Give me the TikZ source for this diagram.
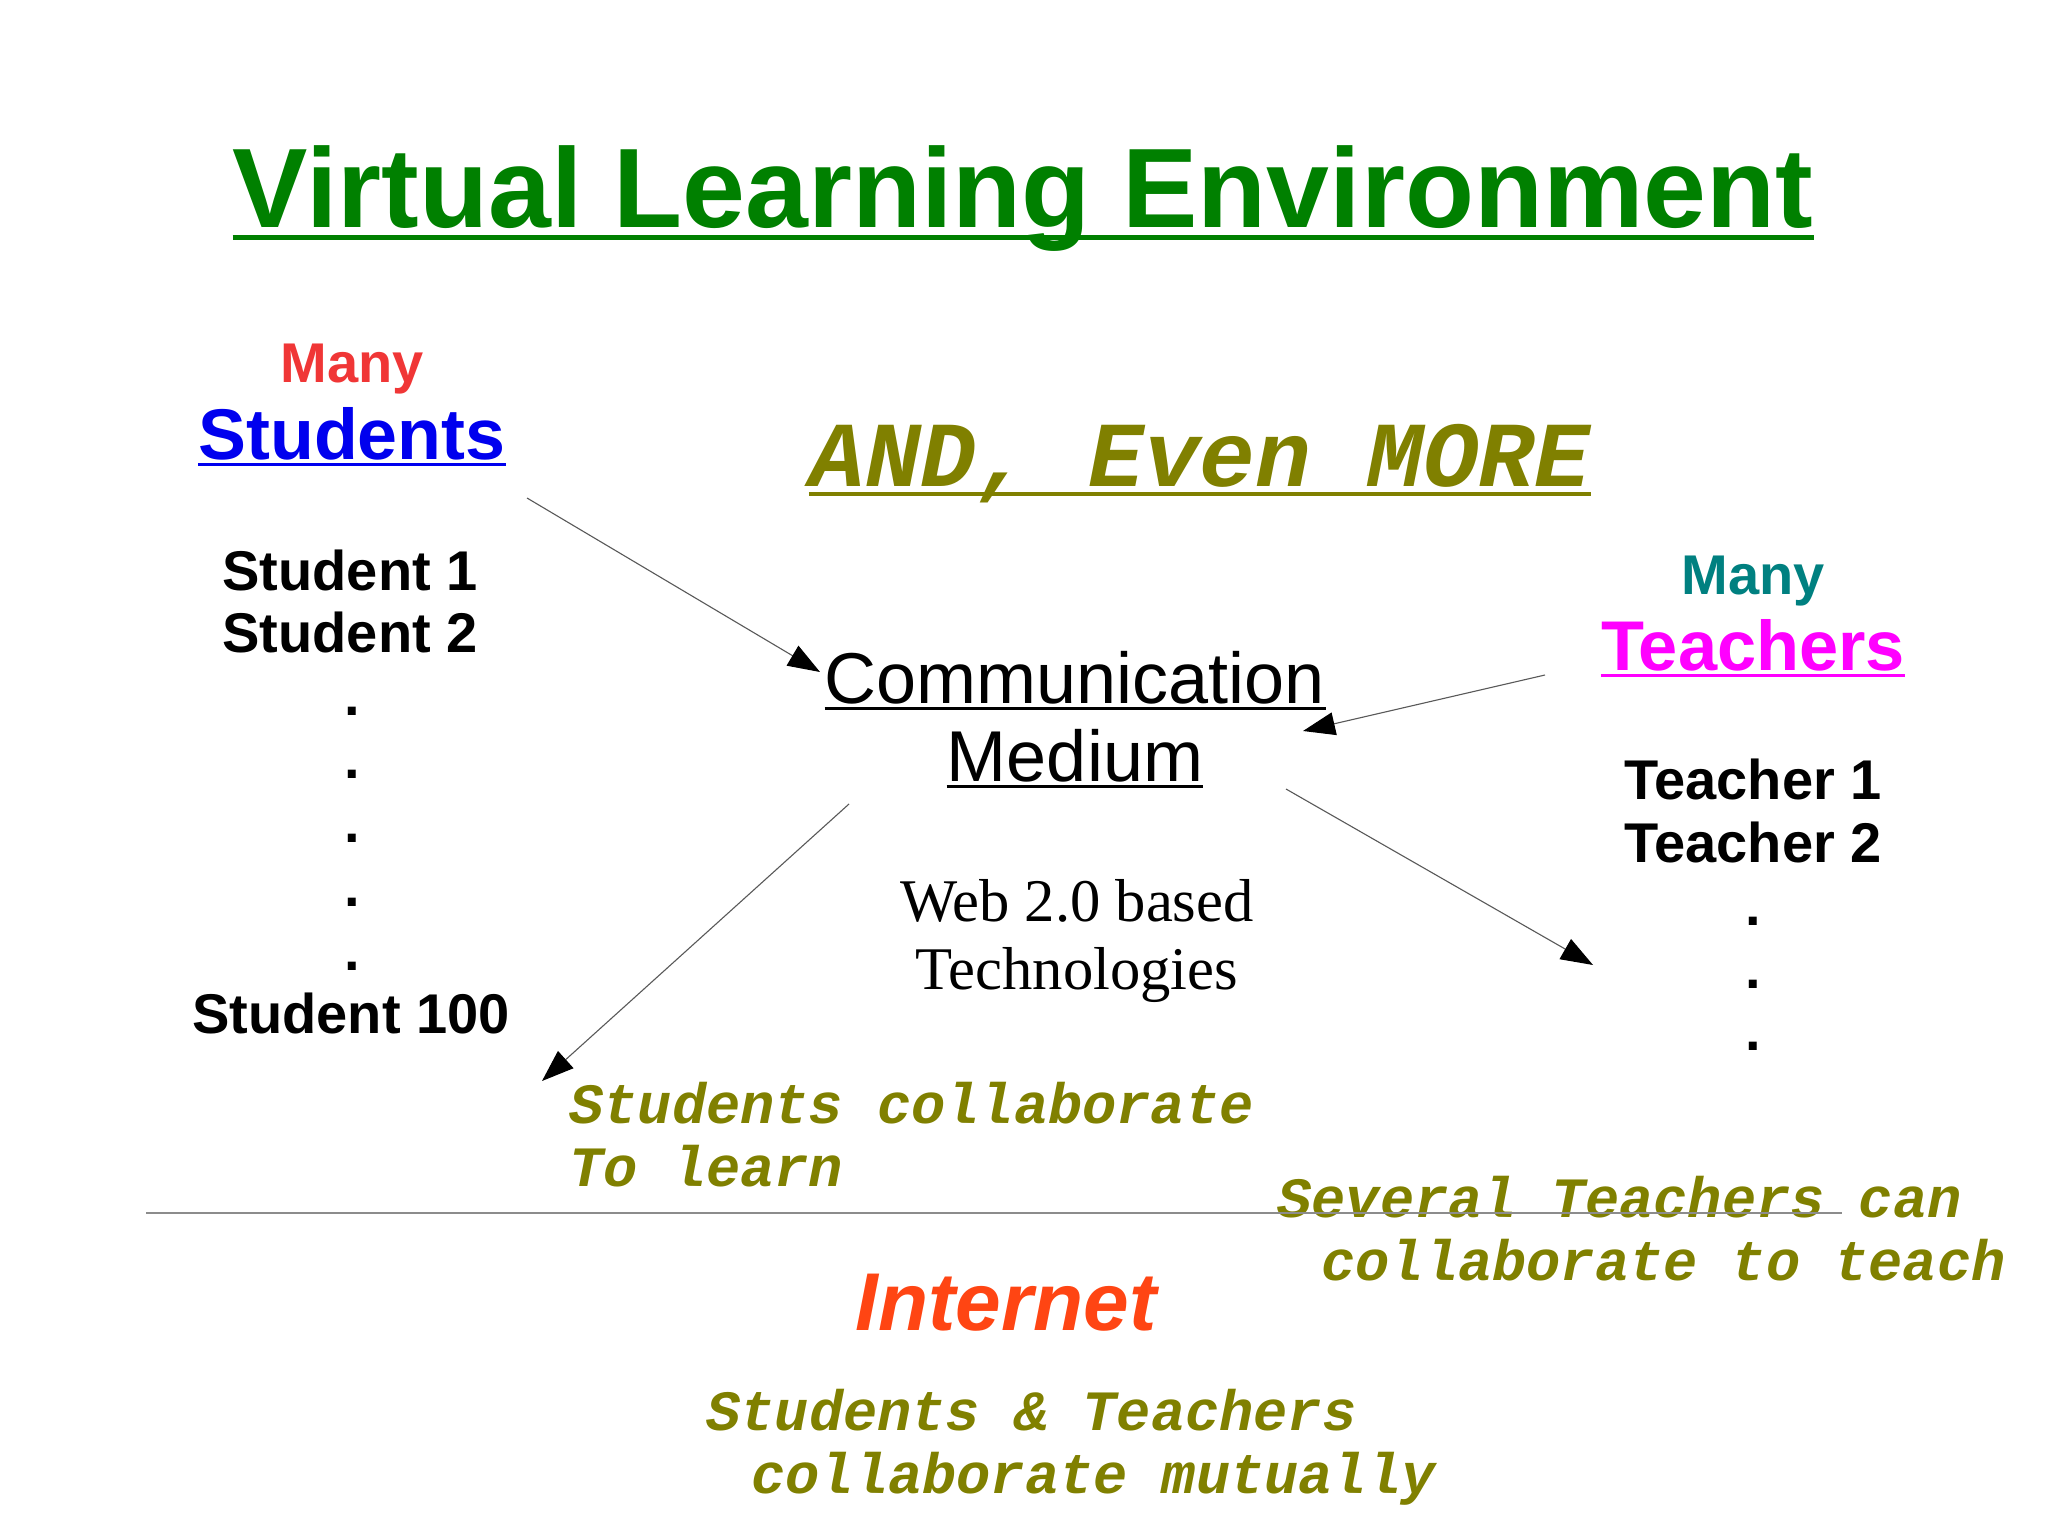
\documentclass[tikz,border=0pt]{standalone}
\usepackage{fontspec}
\usetikzlibrary{arrows.meta}
\newfontfamily\arialf{Liberation Sans}
\newfontfamily\serf{Liberation Serif}
\newfontfamily\courf{Liberation Mono}
\definecolor{vgreen}{HTML}{008000}
\definecolor{manyred}{HTML}{F03636}
\definecolor{stublue}{HTML}{0000EE}
\definecolor{tealc}{HTML}{008080}
\definecolor{magc}{HTML}{FF00FF}
\definecolor{olivec}{HTML}{808000}
\definecolor{inetc}{HTML}{FF4513}
\newcommand\setfs[1]{\fontsize{#1}{#1}\selectfont}
\begin{document}
\begin{tikzpicture}[x=0.5pt,y=-0.5pt,
  txt/.style={inner sep=0pt, anchor=base},
  txtw/.style={inner sep=0pt, anchor=base west},
  boldtxt/.style={txt, font=\arialf\bfseries\setfs{28}},
  olivetxt/.style={txtw, text=olivec, font=\courf\bfseries\itshape\setfs{28.5}},
  conn/.style={draw=black!65, line width=0.55pt, -{Triangle[length=16pt,width=11.5pt,color=black,fill=black]}},
]
\useasboundingbox[fill=white] (0,0) rectangle (2048,1535);

% title
\node[txt, text=vgreen, font=\arialf\bfseries\setfs{56.5}] (title) at (1023,228) {Virtual Learning Environment};
\draw[vgreen, line width=2.5pt] ([yshift=-4.75pt]title.base west) -- ([yshift=-4.75pt]title.base east);

% students column
\node[boldtxt, text=manyred] (many1) at (352,382) {Many};
\node[txt, text=stublue, font=\arialf\bfseries\setfs{35.9}] (students) at (352,459) {Students};
\draw[stublue, line width=1.5pt] ([yshift=-2.6pt]students.base west) -- ([yshift=-2.6pt]students.base east);
\node[boldtxt] (s1) at (350,590) {Student 1};
\node[boldtxt] (s2) at (350,652) {Student 2};
\node[boldtxt] (sd1) at (352,715) {.};
\node[boldtxt] (sd2) at (352,778) {.};
\node[boldtxt] (sd3) at (352,842) {.};
\node[boldtxt] (sd4) at (352,906) {.};
\node[boldtxt] (sd5) at (352,970) {.};
\node[boldtxt] (s100) at (351,1033) {Student 100};

% and even more
\node[txt, text=olivec, font=\courf\bfseries\itshape\setfs{46.5}] (more) at (1200,486) {AND, Even MORE};
\draw[olivec, line width=2pt] ([yshift=-4pt]more.base west) -- ([yshift=-4pt]more.base east);

% communication medium
\node[txt, font=\arialf\setfs{36}] (comm) at (1075,703) {Communication};
\draw[black, line width=1.6pt] ([yshift=-2.6pt]comm.base west) -- ([yshift=-2.6pt]comm.base east);
\node[txt, font=\arialf\setfs{36}] (medium) at (1075,781) {Medium};
\draw[black, line width=1.6pt] ([yshift=-2.6pt]medium.base west) -- ([yshift=-2.6pt]medium.base east);

\node[txt, font=\serf\setfs{30.3}] (web1) at (1077,921) {Web 2.0 based};
\node[txt, font=\serf\setfs{30.3}] (web2) at (1077,989) {Technologies};

% teachers column
\node[boldtxt, text=tealc] (many2) at (1753,594) {Many};
\node[txt, text=magc, font=\arialf\bfseries\setfs{35.2}] (teachers) at (1753,670) {Teachers};
\draw[magc, line width=1.5pt] ([yshift=-2.6pt]teachers.base west) -- ([yshift=-2.6pt]teachers.base east);
\node[boldtxt] (t1) at (1753,799) {Teacher 1};
\node[boldtxt] (t2) at (1753,862) {Teacher 2};
\node[boldtxt] (td1) at (1753,925) {.};
\node[boldtxt] (td2) at (1753,988) {.};
\node[boldtxt] (td3) at (1753,1050) {.};

% olive captions
\node[olivetxt] (c1) at (569,1123) {Students collaborate};
\node[olivetxt] (c2) at (569,1186) {To learn};
\node[olivetxt] (c3) at (1277,1217) {Several Teachers can};
\node[olivetxt] (c4) at (1321,1280) {collaborate to teach};
\node[olivetxt] (c5) at (706,1430) {Students \& Teachers};
\node[olivetxt] (c6) at (751,1493) {collaborate mutually};

\node[txt, text=inetc, font=\arialf\bfseries\itshape\setfs{41}] (internet) at (1006,1330) {Internet};

% separator
\coordinate (sepL) at (146,1213);
\coordinate (sepR) at (1842,1213);
\draw[black!45, line width=0.9pt] (sepL) -- (sepR);

% connectors
\coordinate (a1s) at (527,498);
\coordinate (a1e) at (820,672);
\coordinate (a2s) at (1545,675);
\coordinate (a2e) at (1303,731);
\coordinate (a3s) at (849,804);
\coordinate (a3e) at (542,1081);
\coordinate (a4s) at (1286,789);
\coordinate (a4e) at (1593,965);
\draw[conn] (a1s) -- (a1e);
\draw[conn] (a2s) -- (a2e);
\draw[conn] (a3s) -- (a3e);
\draw[conn] (a4s) -- (a4e);
\end{tikzpicture}
\end{document}
